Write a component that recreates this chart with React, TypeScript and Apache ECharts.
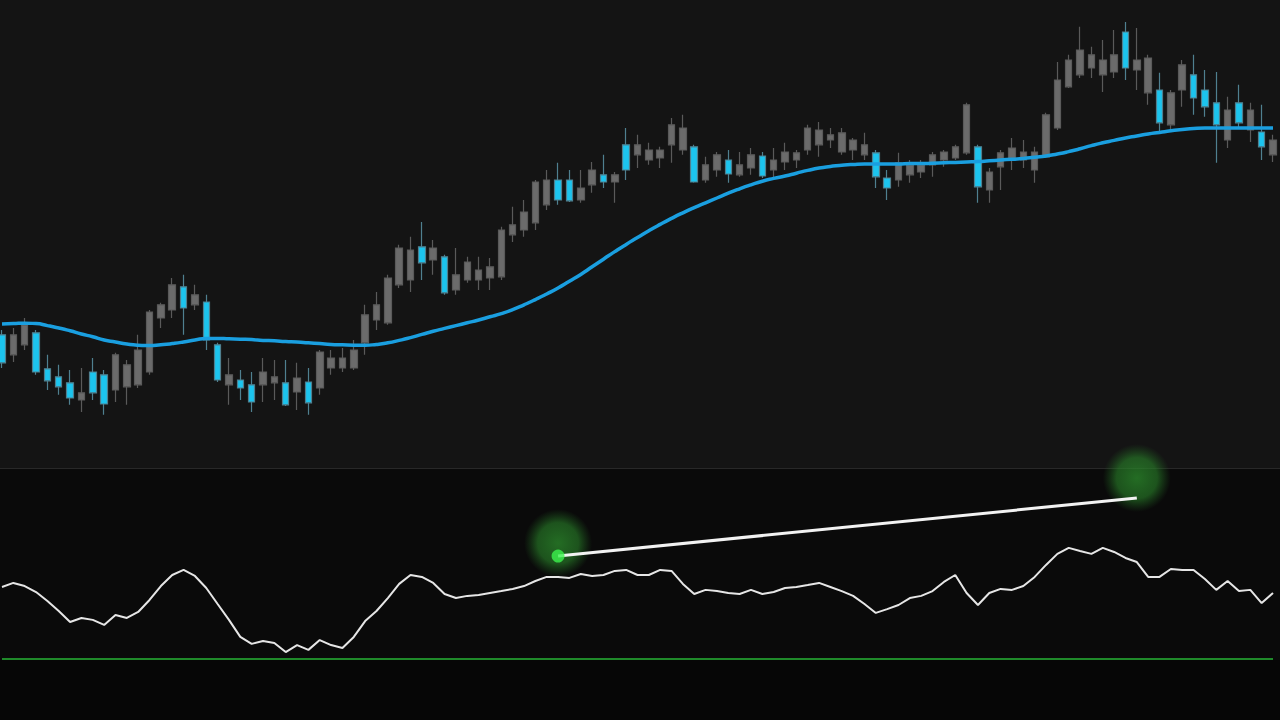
import React, { useEffect, useRef } from "react";
import * as echarts from "echarts";

// [open, close, low, high]
const candles: number[][] = [
  [36.3, 29.3, 28.0, 37.5], [31.3, 36.3, 29.5, 38.0], [33.8, 38.8, 32.5, 40.5], [36.8, 27.0, 26.3, 37.5],
  [27.8, 24.8, 22.5, 31.3], [25.8, 23.3, 21.3, 28.8], [24.3, 20.5, 18.8, 27.5], [20.0, 21.8, 17.0, 28.0],
  [27.0, 21.8, 20.0, 30.5], [26.3, 19.0, 16.3, 27.5], [22.5, 31.3, 19.5, 31.8], [23.3, 28.8, 18.8, 30.0],
  [23.8, 32.5, 23.0, 36.3], [27.0, 42.0, 26.3, 42.5], [40.5, 43.8, 38.0, 44.3], [42.5, 48.8, 40.5, 50.5],
  [48.3, 43.0, 36.3, 51.3], [43.8, 46.3, 42.5, 48.8], [44.5, 35.0, 32.5, 46.3], [33.8, 25.0, 24.5, 34.3],
  [23.8, 26.3, 18.8, 30.5], [25.0, 23.0, 20.0, 27.5], [23.8, 19.5, 17.0, 27.0], [23.8, 27.0, 19.5, 30.5],
  [24.3, 25.8, 20.0, 30.0], [24.3, 18.8, 18.5, 30.0], [22.0, 25.5, 17.5, 29.3], [24.5, 19.3, 16.3, 28.0],
  [23.0, 32.0, 21.3, 32.5], [28.0, 30.5, 26.3, 32.5], [28.0, 30.5, 27.0, 33.0], [28.0, 32.5, 27.5, 35.0],
  [34.3, 41.3, 31.3, 43.8], [40.0, 43.8, 37.5, 47.0], [39.3, 50.5, 38.8, 51.3], [48.8, 58.0, 48.0, 58.8],
  [50.0, 57.5, 47.0, 60.8], [58.3, 54.3, 50.0, 64.5], [55.0, 58.0, 51.3, 60.0], [55.8, 46.8, 46.3, 56.3],
  [47.5, 51.3, 46.3, 58.0], [50.0, 54.5, 49.3, 55.8], [50.0, 52.5, 47.5, 55.8], [50.5, 53.3, 47.5, 55.5],
  [50.8, 62.5, 50.0, 63.3], [61.3, 63.8, 59.5, 68.3], [62.5, 67.0, 60.8, 70.0], [64.3, 74.5, 62.5, 75.0],
  [68.8, 75.0, 67.5, 77.5], [75.0, 70.0, 68.8, 79.3], [75.0, 69.8, 69.5, 77.5], [70.0, 73.0, 69.3, 77.5],
  [73.8, 77.5, 71.8, 79.5], [76.3, 74.5, 73.0, 81.3], [74.5, 76.3, 69.3, 77.0], [83.8, 77.5, 75.0, 88.0],
  [81.3, 83.8, 78.0, 86.3], [80.0, 82.5, 78.8, 84.3], [80.5, 82.5, 78.0, 83.3], [83.8, 88.8, 79.3, 90.5],
  [82.5, 88.0, 81.3, 91.3], [83.3, 74.5, 74.3, 83.8], [75.0, 78.8, 74.3, 80.8], [77.5, 81.3, 75.8, 82.0],
  [80.0, 76.5, 74.3, 82.5], [76.3, 78.8, 75.8, 82.0], [78.0, 81.3, 76.3, 83.0], [81.0, 76.0, 75.5, 82.0],
  [77.5, 80.0, 75.5, 83.0], [79.5, 82.0, 77.5, 84.3], [80.0, 81.8, 78.0, 82.5], [82.5, 88.0, 81.3, 88.8],
  [83.8, 87.5, 80.8, 89.5], [85.0, 86.3, 83.0, 88.0], [82.0, 86.8, 81.3, 88.0], [82.5, 85.0, 80.0, 85.5],
  [81.3, 83.8, 80.0, 86.8], [81.8, 75.8, 73.0, 82.5], [75.5, 73.0, 70.0, 77.5], [75.0, 79.3, 73.3, 81.8],
  [76.3, 78.8, 74.3, 80.0], [77.0, 78.8, 75.5, 80.0], [78.8, 81.3, 75.8, 82.0], [80.0, 82.0, 78.3, 82.5],
  [80.5, 83.3, 80.0, 83.8], [81.8, 93.8, 81.3, 94.3], [83.3, 73.3, 69.3, 83.8], [72.5, 77.0, 69.3, 78.0],
  [78.3, 81.8, 72.5, 82.5], [80.0, 83.0, 77.5, 85.5], [80.0, 82.0, 78.0, 85.0], [77.5, 82.0, 74.3, 83.3],
  [80.8, 91.3, 80.5, 91.8], [88.0, 100.0, 87.5, 104.5], [98.3, 105.0, 98.0, 106.3], [101.3, 107.5, 100.5, 113.3],
  [103.0, 106.3, 100.5, 108.3], [101.3, 105.0, 97.0, 110.0], [102.0, 106.3, 100.5, 112.5], [112.0, 103.0, 100.0, 114.5],
  [102.5, 105.0, 97.5, 113.0], [96.8, 105.5, 93.8, 106.3], [97.5, 89.3, 86.8, 101.8], [88.8, 96.8, 87.5, 97.5],
  [97.5, 103.8, 93.3, 105.0], [101.3, 95.5, 91.3, 106.3], [97.5, 93.3, 90.8, 102.5], [94.3, 88.8, 79.3, 102.0],
  [85.0, 92.5, 83.0, 95.8], [94.3, 89.3, 88.0, 98.8], [87.5, 92.5, 84.5, 94.3], [87.0, 83.3, 80.0, 93.8],
  [81.3, 85.0, 79.5, 86.3],
];

const movingAverage: number[] = [
  39.0, 39.1, 39.2, 39.1, 38.6, 38.0, 37.3, 36.5, 35.8, 35.0,
  34.5, 34.0, 33.7, 33.6, 33.8, 34.1, 34.5, 35.0, 35.4, 35.4,
  35.3, 35.2, 35.1, 34.9, 34.8, 34.6, 34.5, 34.3, 34.1, 33.9,
  33.8, 33.7, 33.7, 33.9, 34.3, 34.9, 35.6, 36.4, 37.2, 37.9,
  38.6, 39.3, 40.0, 40.8, 41.6, 42.6, 43.8, 45.1, 46.5, 48.0,
  49.7, 51.4, 53.3, 55.2, 57.1, 58.9, 60.6, 62.3, 63.9, 65.4,
  66.8, 68.1, 69.3, 70.5, 71.7, 72.8, 73.8, 74.7, 75.4, 76.0,
  76.7, 77.4, 78.0, 78.4, 78.7, 78.9, 79.0, 79.0, 79.0, 79.0,
  79.1, 79.1, 79.2, 79.3, 79.4, 79.5, 79.6, 79.8, 80.0, 80.2,
  80.4, 80.7, 81.0, 81.5, 82.1, 82.8, 83.6, 84.3, 84.9, 85.5,
  86.0, 86.5, 86.9, 87.3, 87.6, 87.9, 88.0, 88.0, 88.0, 88.0,
  88.0, 88.0, 88.0,
];

const oscillator: number[] = [
  50.0, 51.7, 50.4, 47.9, 44.2, 40.0, 35.4, 37.1, 36.3, 34.2,
  38.3, 37.1, 39.6, 44.6, 50.4, 55.0, 57.1, 54.6, 49.6, 42.9,
  36.3, 29.2, 26.3, 27.5, 26.7, 22.9, 25.8, 23.8, 27.9, 25.8,
  24.6, 29.2, 35.8, 40.0, 45.4, 51.3, 55.0, 54.2, 51.7, 47.1,
  45.4, 46.3, 46.7, 47.5, 48.3, 49.2, 50.4, 52.5, 54.2, 54.2,
  53.8, 55.4, 54.6, 55.0, 56.7, 57.1, 55.0, 55.0, 57.1, 56.7,
  51.3, 47.1, 48.8, 48.3, 47.5, 47.1, 48.8, 47.1, 47.9, 49.6,
  50.0, 50.8, 51.7, 50.0, 48.3, 46.3, 42.9, 39.2, 40.8, 42.5,
  45.4, 46.3, 48.3, 52.1, 55.0, 47.5, 42.5, 47.5, 49.2, 48.8,
  50.4, 54.2, 59.2, 63.8, 66.3, 65.0, 63.8, 66.3, 64.6, 62.1,
  60.4, 54.2, 54.2, 57.5, 57.1, 57.1, 53.3, 48.8, 52.5, 48.3,
  48.8, 43.3, 47.5,
];

const oscillatorFloor = 20;
const trendLine: number[][] = [[49, 62.9], [100, 87.1]];
const glowPoints: number[][] = [[49, 68.3], [100.4, 95.4]];
const signalDot: number[][] = [[49, 62.9]];
const sessions: string[] = candles.map((_, i) => `S${i + 1}`);

export default function App() {
  const ref = useRef<HTMLDivElement>(null);
  useEffect(() => {
    const chart = echarts.init(ref.current!, null, { renderer: "svg" });
    chart.setOption({
      animation: false,
      backgroundColor: "#141414",
      graphic: [
        { type: "rect", z: -10, silent: true, shape: { x: 0, y: 468, width: 1280, height: 192 }, style: { fill: "#0a0a0a" } },
        { type: "rect", z: -10, silent: true, shape: { x: 0, y: 660, width: 1280, height: 60 }, style: { fill: "#060606" } },
        { type: "line", z: -9, silent: true, shape: { x1: 0, y1: 468.5, x2: 1280, y2: 468.5 }, style: { stroke: "#282828", lineWidth: 1 } },
      ],
      grid: [
        { left: 2, right: 7, top: 0, height: 480 },
        { left: 2, right: 7, top: 467, height: 240 },
      ],
      xAxis: [
        { type: "category", gridIndex: 0, data: sessions, boundaryGap: false, show: false },
        { type: "category", gridIndex: 1, data: sessions, boundaryGap: false, show: false },
      ],
      yAxis: [
        { type: "value", gridIndex: 0, min: 0, max: 120, show: false, splitLine: { show: false } },
        { type: "value", gridIndex: 1, min: 0, max: 100, show: false, splitLine: { show: false } },
      ],
      series: [
        {
          type: "candlestick",
          xAxisIndex: 0,
          yAxisIndex: 0,
          data: candles,
          barWidth: 7,
          clip: false,
          itemStyle: {
            color: "#6b6b6b",
            color0: "#1cc4ee",
            borderColor: "#5a5a5a",
            borderColor0: "#4f8090",
            borderWidth: 1.2,
          },
        },
        {
          type: "line",
          xAxisIndex: 0,
          yAxisIndex: 0,
          data: movingAverage,
          smooth: 0.6,
          showSymbol: false,
          clip: false,
          z: 4,
          lineStyle: { color: "#1a9fe0", width: 3.5 },
        },
        {
          type: "line",
          xAxisIndex: 1,
          yAxisIndex: 1,
          data: oscillator,
          showSymbol: false,
          clip: false,
          lineStyle: { color: "#e6e6e6", width: 2 },
          markLine: {
            silent: true,
            symbol: ["none", "none"],
            label: { show: false },
            lineStyle: { color: "#1f8a2a", width: 2, type: "solid" },
            data: [{ yAxis: oscillatorFloor }],
          },
        },
        {
          type: "scatter",
          xAxisIndex: 1,
          yAxisIndex: 1,
          data: glowPoints,
          symbolSize: 68,
          z: 1,
          itemStyle: {
            color: {
              type: "radial", x: 0.5, y: 0.5, r: 0.5,
              colorStops: [
                { offset: 0, color: "rgba(44,140,44,0.95)" },
                { offset: 0.6, color: "rgba(40,125,40,0.8)" },
                { offset: 1, color: "rgba(34,100,34,0)" },
              ],
            },
          },
        },
        {
          type: "line",
          xAxisIndex: 1,
          yAxisIndex: 1,
          data: trendLine,
          showSymbol: false,
          z: 5,
          lineStyle: { color: "#f2f2f2", width: 3 },
        },
        {
          type: "scatter",
          xAxisIndex: 1,
          yAxisIndex: 1,
          data: signalDot,
          symbolSize: 13,
          z: 6,
          itemStyle: { color: "#3cf44e" },
        },
      ],
    });
    return () => chart.dispose();
  }, []);
  return <div ref={ref} style={{ position: "fixed", left: 0, top: 0, width: 1280, height: 720 }} />;
}
